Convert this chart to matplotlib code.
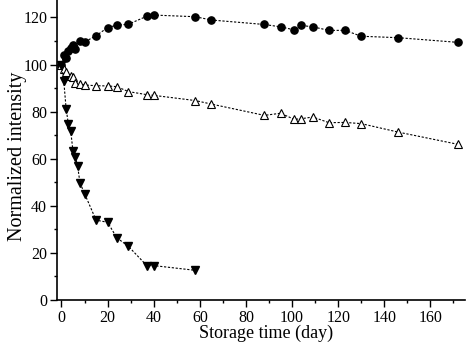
import matplotlib
matplotlib.use("Agg")
import matplotlib.pyplot as plt
from matplotlib.ticker import MultipleLocator

plt.rcParams['font.family'] = ['Liberation Serif', 'DejaVu Serif']

# Storage time (days) and normalized intensity for the three samples
days_a = [0, 1, 2, 3, 4, 5, 6, 8, 10, 15, 20, 24, 29, 37, 40, 58, 65,
          88, 95, 101, 104, 109, 116, 123, 130, 146, 172]
intensity_a = [100, 104.2, 102.8, 105.8, 107.2, 108.2, 106.8, 109.8, 109.6,
               112.2, 115.7, 116.7, 117.1, 120.5, 121.0, 120.3, 118.9,
               117.0, 116.0, 114.7, 116.6, 116.0, 114.5, 114.5, 112.0,
               111.4, 109.4]

days_b = [0, 1, 2, 4, 5, 6, 8, 10, 15, 20, 24, 29, 37, 40, 58, 65,
          88, 95, 101, 104, 109, 116, 123, 130, 146, 172]
intensity_b = [100, 98.3, 96.9, 95.0, 94.5, 92.3, 91.9, 91.3, 91.0, 90.9,
               90.6, 88.5, 87.2, 86.9, 84.7, 83.2, 78.4, 79.3, 76.7, 77.0,
               77.7, 75.3, 75.4, 74.9, 71.3, 66.1]

days_c = [0, 1, 2, 3, 4, 5, 6, 7, 8, 10, 15, 20, 24, 29, 37, 40, 58]
intensity_c = [100, 92.9, 81.3, 74.6, 71.7, 63.1, 60.7, 56.9, 49.8, 45.2,
               33.9, 33.0, 26.4, 22.8, 14.6, 14.6, 12.6]

x_label = "Storage time (day)"
y_label = "Normalized intensity"

fig = plt.figure(figsize=(4.74, 3.48), dpi=100)
ax = fig.add_axes([0.120, 0.138, 0.861, 0.862])

line_kw = dict(color='black', linestyle=(0, (2, 1.5)), linewidth=0.8)
ax.plot(days_a, intensity_a, marker='o', markersize=5.2,
        markerfacecolor='black', markeredgecolor='black', **line_kw)
ax.plot(days_b, intensity_b, marker='^', markersize=5.5,
        markerfacecolor='white', markeredgecolor='black',
        markeredgewidth=0.8, **line_kw)
ax.plot(days_c, intensity_c, marker='v', markersize=5.5,
        markerfacecolor='black', markeredgecolor='black', **line_kw)

ax.set_xlim(-2, 175)
ax.set_ylim(0, 127.4)
ax.xaxis.set_major_locator(MultipleLocator(20))
ax.xaxis.set_minor_locator(MultipleLocator(10))
ax.yaxis.set_major_locator(MultipleLocator(20))
ax.yaxis.set_minor_locator(MultipleLocator(10))

for side in ('top', 'right'):
    ax.spines[side].set_visible(False)
for side in ('left', 'bottom'):
    ax.spines[side].set_linewidth(1.2)

ax.tick_params(which='major', direction='out', length=5, width=1.0,
               labelsize=11.5, pad=2)
ax.tick_params(which='minor', direction='out', length=2.5, width=1.0)

ax.set_xlabel(x_label, fontsize=13)
ax.set_ylabel(y_label, fontsize=14.5)
ax.xaxis.set_label_coords(0.512, -0.082)
ax.yaxis.set_label_coords(-0.074, 0.48)

fig.savefig("out.png", dpi=100)
